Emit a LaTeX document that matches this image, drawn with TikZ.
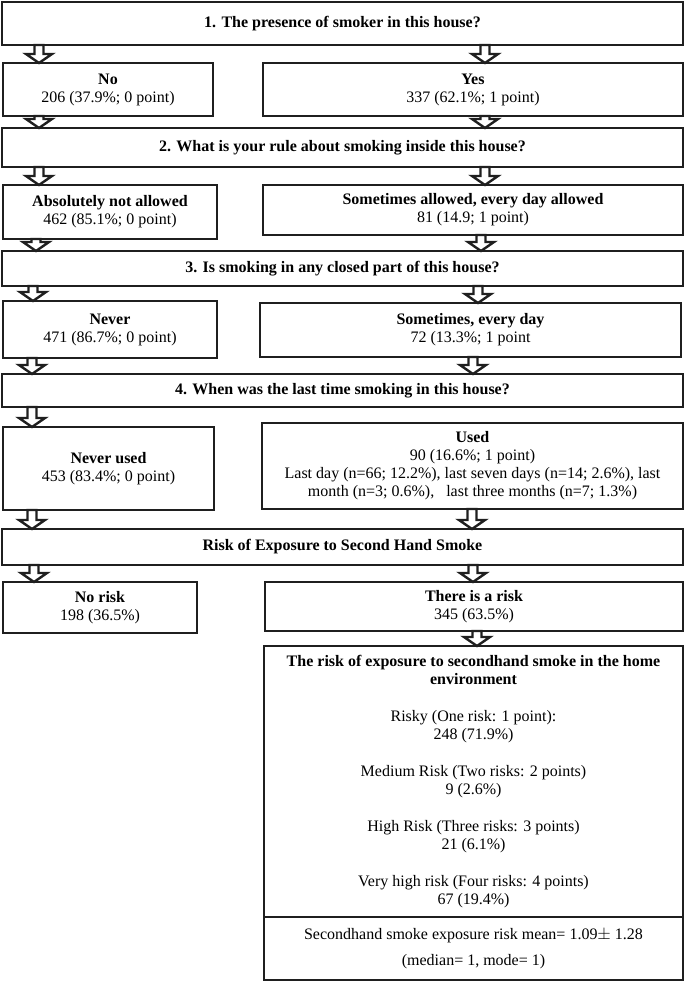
\documentclass[tikz,border=0pt]{standalone}
\usepackage{fontspec}
\setmainfont{Liberation Serif}
\usetikzlibrary{calc}
\tikzset{
  box/.style={draw=black!88, line width=2.6pt, fill=white, inner sep=0pt, outer sep=0pt,
    align=center, font=\fontsize{16}{18}\selectfont},
  wide/.style={box, minimum width=681pt},
  barrow/.style={draw=black!88, fill=white, line width=2.4pt, line join=miter}
}
\newcommand\dnarrow[3]{%
  \filldraw[barrow] let \p1=(#2.south), \p2=(#3.north) in
   ({#1pt-4.5pt},\y1) -- ({#1pt+4.5pt},\y1) -- ({#1pt+4.5pt},\y2+9pt) -- ({#1pt+13pt},\y2+9pt)
   -- (#1pt,\y2) -- ({#1pt-13pt},\y2+9pt) -- ({#1pt-4.5pt},\y2+9pt) -- cycle;}
\begin{document}
\begin{tikzpicture}[x=1pt,y=-1pt]
\useasboundingbox[fill=white] (0,0) rectangle (685,983);
\node[wide, minimum height=43pt] (q1) at (342.5,23.5) {\textbf{1. The presence of smoker in this house?}};
\node[box, minimum width=210pt, minimum height=53pt] (no) at (108,89.5) {\textbf{No}\\206 (37.9\%; 0 point)};
\node[box, minimum width=420pt, minimum height=53pt] (yes) at (473,89.5) {\textbf{Yes}\\337 (62.1\%; 1 point)};
\node[wide, minimum height=39pt] (q2) at (342.5,147.5) {\textbf{2. What is your rule about smoking inside this house?}};
\node[box, minimum width=214pt, minimum height=54pt] (abs) at (110,212) {\textbf{Absolutely not allowed}\\462 (85.1\%; 0 point)};
\node[box, minimum width=420pt, minimum height=50pt] (some) at (473,210) {\textbf{Sometimes allowed, every day allowed}\\81 (14.9; 1 point)};
\node[wide, minimum height=35pt] (q3) at (342.5,268.5) {\textbf{3. Is smoking in any closed part of this house?}};
\node[box, minimum width=214pt, minimum height=57pt] (never) at (110,329.5) {\textbf{Never}\\471 (86.7\%; 0 point)};
\node[box, minimum width=421pt, minimum height=54pt] (sed) at (470.5,330) {\textbf{Sometimes, every day}\\72 (13.3\%; 1 point};
\node[wide, minimum height=33pt] (q4) at (342.5,390.5) {\textbf{4. When was the last time smoking in this house?}};
\node[box, minimum width=211pt, minimum height=83pt] (nu) at (108.5,468.5) {\textbf{Never used}\\453 (83.4\%; 0 point)};
\node[box, minimum width=421pt, minimum height=86pt] (used) at (472.5,466) {\textbf{Used}\\90 (16.6\%; 1 point)\\Last day (n=66; 12.2\%), last seven days (n=14; 2.6\%), last\\month (n=3; 0.6\%),\ \ \ last three months (n=7; 1.3\%)};
\node[wide, minimum height=36pt] (risk) at (342.5,547) {\textbf{Risk of Exposure to Second Hand Smoke}};
\node[box, minimum width=194pt, minimum height=51pt] (norisk) at (100,607.5) {\textbf{No risk}\\198 (36.5\%)};
\node[box, minimum width=418pt, minimum height=49pt] (isrisk) at (474,606.5) {\textbf{There is a risk}\\345 (63.5\%)};
\node[box, minimum width=419pt, minimum height=271pt] (big) at (473.5,781.5) {\textbf{The risk of exposure to secondhand smoke in the home}\\\textbf{environment}\\[19pt]Risky (One risk: 1 point):\\248 (71.9\%)\\[19pt]Medium Risk (Two risks: 2 points)\\9 (2.6\%)\\[19pt]High Risk (Three risks: 3 points)\\21 (6.1\%)\\[19pt]Very high risk (Four risks: 4 points)\\67 (19.4\%)};
\node[box, minimum width=419pt, minimum height=63pt] (mean) at (473.5,948.5) {Secondhand smoke exposure risk mean= 1.09$\pm$ 1.28\\[8pt](median= 1, mode= 1)};
\dnarrow{39}{q1}{no}
\dnarrow{485}{q1}{yes}
\dnarrow{39}{no}{q2}
\dnarrow{485}{yes}{q2}
\dnarrow{39}{q2}{abs}
\dnarrow{485}{q2}{some}
\dnarrow{36}{abs}{q3}
\dnarrow{481}{some}{q3}
\dnarrow{33}{q3}{never}
\dnarrow{478}{q3}{sed}
\dnarrow{32}{never}{q4}
\dnarrow{473}{sed}{q4}
\dnarrow{32}{q4}{nu}
\dnarrow{32}{nu}{risk}
\dnarrow{472}{used}{risk}
\dnarrow{34}{risk}{norisk}
\dnarrow{473}{risk}{isrisk}
\dnarrow{477}{isrisk}{big}
\end{tikzpicture}
\end{document}
